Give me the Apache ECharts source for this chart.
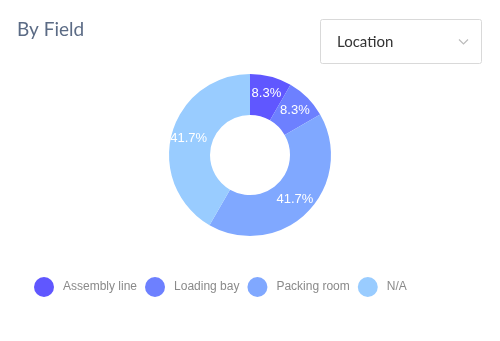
<!DOCTYPE html>
<html>
<head>
<meta charset="utf-8">
<script src="https://cdn.jsdelivr.net/npm/echarts@6/dist/echarts.min.js"></script>
<style>
  html, body { margin: 0; padding: 0; background: #fff; }
  #chart { width: 500px; height: 341px; }
</style>
</head>
<body>
<div id="chart"></div>
<script>
// 数据
const categories = ['Assembly line', 'Loading bay', 'Packing room', 'N/A']
const counts = [1, 1, 5, 5]
const colors = ['#6057FF', '#6D80FF', '#80A8FF', '#99CCFF']

const chart = echarts.init(document.getElementById('chart'))

chart.setOption({
  animation: false,
  color: colors,
  title: {
    text: 'By Field',
    left: 12,
    top: 15,
    textStyle: { fontFamily: 'Lato', fontSize: 19, fontWeight: 'normal', color: '#5b6b85' }
  },
  legend: {
    data: categories,
    left: 29,
    top: 272,
    icon: 'circle',
    itemWidth: 20,
    itemHeight: 20,
    itemGap: 8,
    textStyle: { fontFamily: 'Liberation Sans', fontSize: 12, color: '#8a8a8a', padding: [0, 0, 0, 4] }
  },
  // 下拉框（界面装饰）
  graphic: [
    {
      type: 'rect',
      shape: { x: 320.5, y: 19.5, width: 161, height: 44, r: 2 },
      style: { fill: '#fff', stroke: '#d9d9d9', lineWidth: 1 }
    },
    {
      type: 'text',
      x: 337, y: 42,
      style: { text: 'Location', fontFamily: 'Lato', fontSize: 15, fill: '#333', verticalAlign: 'middle' }
    },
    {
      type: 'polyline',
      shape: { points: [[459, 39.5], [463.5, 44], [468, 39.5]] },
      style: { stroke: '#bcbcbc', lineWidth: 1.2, fill: null }
    }
  ],
  series: [{
    type: 'pie',
    center: [250, 155],
    radius: [40, 81],
    percentPrecision: 1,
    label: {
      position: 'inside',
      formatter: '{d}%',
      color: '#fff',
      fontFamily: 'Liberation Sans',
      fontSize: 13
    },
    labelLine: { show: false },
    data: categories.map((name, i) => ({ name, value: counts[i] }))
  }]
})
</script>
</body>
</html>
